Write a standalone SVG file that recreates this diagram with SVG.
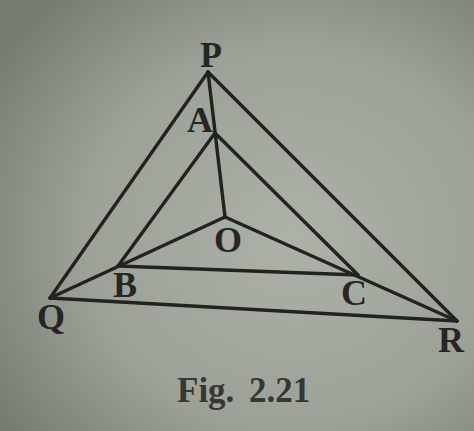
<svg xmlns="http://www.w3.org/2000/svg" width="474" height="431" viewBox="0 0 474 431">
<defs>
<radialGradient id="bg" cx="0.62" cy="0.55" r="0.75">
<stop offset="0" stop-color="#adb2a8"/>
<stop offset="0.6" stop-color="#9ca198"/>
<stop offset="1" stop-color="#767c70"/>
</radialGradient>
<style>
.e{stroke:#222220;stroke-width:3.4;stroke-linecap:round;fill:none}
.l{font-family:"Liberation Serif",serif;font-weight:bold;font-size:36px;fill:#262624;text-anchor:middle}
.cap{font-family:"Liberation Serif",serif;font-weight:bold;font-size:35px;fill:#363634}
</style>
</defs>
<rect width="474" height="431" fill="url(#bg)"/>
<g id="connectors">
<line class="e" x1="208" y1="72" x2="50" y2="298"/>
<line class="e" x1="208" y1="72" x2="457" y2="321"/>
<line class="e" x1="50" y1="298" x2="457" y2="321"/>
<line class="e" x1="215" y1="133" x2="118" y2="266"/>
<line class="e" x1="215" y1="133" x2="358" y2="275"/>
<line class="e" x1="118" y1="266" x2="358" y2="275"/>
<line class="e" x1="208" y1="72" x2="225" y2="217"/>
<line class="e" x1="225" y1="217" x2="50" y2="298"/>
<line class="e" x1="225" y1="217" x2="457" y2="321"/>
</g>
<g id="P"><text class="l" x="211" y="67">P</text></g>
<g id="A"><text class="l" x="200" y="132">A</text></g>
<g id="O"><text class="l" x="228" y="252">O</text></g>
<g id="B"><text class="l" x="125" y="297">B</text></g>
<g id="C"><text class="l" x="354" y="305">C</text></g>
<g id="Q"><text class="l" x="51" y="329">Q</text></g>
<g id="R"><text class="l" x="451" y="352">R</text></g>
<g id="caption"><text class="cap" x="177" y="402">Fig.</text><text class="cap" x="249" y="402">2.21</text></g>
</svg>
